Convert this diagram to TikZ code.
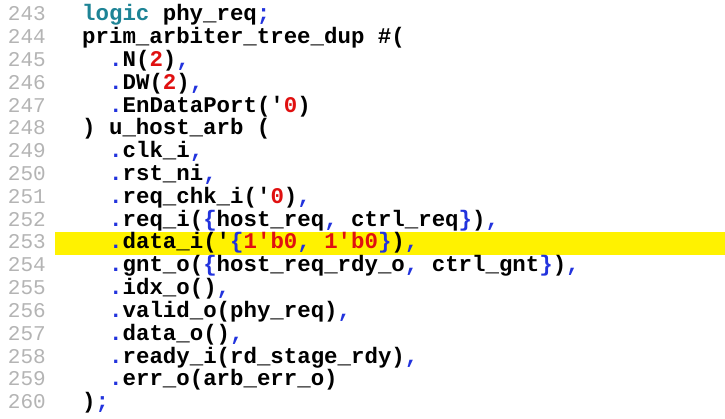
\documentclass[tikz,border=0pt]{standalone}
\usepackage{fontspec}
\newfontfamily\code{Liberation Mono}
\definecolor{kw}{HTML}{1E8496}
\definecolor{pb}{HTML}{2233DD}
\definecolor{nr}{HTML}{E01010}
\definecolor{ln}{HTML}{B4B4B4}
\definecolor{hl}{HTML}{FFF200}
\newcommand{\Bc}[1]{\textcolor{pb}{#1}}
\newcommand{\Rc}[1]{\textcolor{nr}{#1}}
\newcommand{\CL}[3]{\node[codeline] (c#1) at ({82+13.5*#2},{21+22.8*(#1-243)}) {#3};}
\tikzset{codeline/.style={anchor=base west,inner sep=0pt,font=\code\bfseries\fontsize{22.4}{24}\selectfont},
numline/.style={anchor=base east,inner sep=0pt,text=ln,font=\code\fontsize{21}{24}\selectfont}}
\begin{document}
\begin{tikzpicture}[x=1pt,y=-1pt]
\useasboundingbox (0,0) rectangle (725,419);
\fill[white] (0,0) rectangle (725,419);
\fill[hl] (55,232) rectangle (725,255);
\foreach \n [count=\i from 0] in {243,...,260}{
  \node[numline] (n\n) at (46,{21+22.8*\i}) {\n};
}
\CL{243}{0}{\textcolor{kw}{logic} phy\_req\Bc{;}}
\CL{244}{0}{prim\_arbiter\_tree\_dup \#(}
\CL{245}{2}{\Bc{.}N(\Rc{2})\Bc{,}}
\CL{246}{2}{\Bc{.}DW(\Rc{2})\Bc{,}}
\CL{247}{2}{\Bc{.}EnDataPort('\Rc{0})}
\CL{248}{0}{) u\_host\_arb (}
\CL{249}{2}{\Bc{.}clk\_i\Bc{,}}
\CL{250}{2}{\Bc{.}rst\_ni\Bc{,}}
\CL{251}{2}{\Bc{.}req\_chk\_i('\Rc{0})\Bc{,}}
\CL{252}{2}{\Bc{.}req\_i(\Bc{\{}host\_req\Bc{,} ctrl\_req\Bc{\}})\Bc{,}}
\CL{253}{2}{\Bc{.}data\_i('\Bc{\{}\Rc{1'b0}\Bc{,} \Rc{1'b0}\Bc{\}})\Bc{,}}
\CL{254}{2}{\Bc{.}gnt\_o(\Bc{\{}host\_req\_rdy\_o\Bc{,} ctrl\_gnt\Bc{\}})\Bc{,}}
\CL{255}{2}{\Bc{.}idx\_o()\Bc{,}}
\CL{256}{2}{\Bc{.}valid\_o(phy\_req)\Bc{,}}
\CL{257}{2}{\Bc{.}data\_o()\Bc{,}}
\CL{258}{2}{\Bc{.}ready\_i(rd\_stage\_rdy)\Bc{,}}
\CL{259}{2}{\Bc{.}err\_o(arb\_err\_o)}
\CL{260}{0}{)\Bc{;}}
\end{tikzpicture}
\end{document}
